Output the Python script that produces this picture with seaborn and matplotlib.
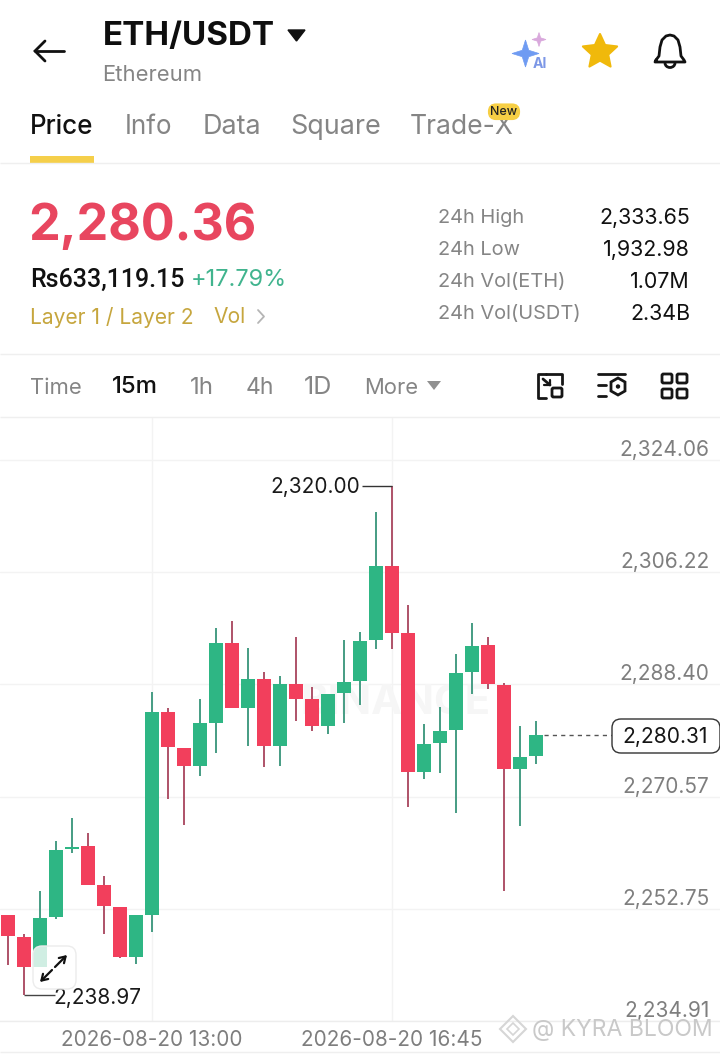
import numpy as np
import pandas as pd
import matplotlib
matplotlib.use("Agg")
import matplotlib.pyplot as plt
from matplotlib.patches import FancyBboxPatch, Polygon, Rectangle, Circle, Arc
import seaborn as sns

opens = [2251.8,2248.3,2243.5,2251.44,2262.24,2262.72,2256.52,2253.03,2245.08,2251.76,2284.01,2278.29,2275.43,2282.27,2294.98,2284.65,2289.26,2278.61,2288.46,2286.08,2281.79,2287.03,2288.94,2295.45,2307.21,2296.57,2274.48,2279.09,2281.15,2290.37,2294.66,2288.30,2274.96,2277.03]
highs = [2251.8,2248.74,2255.57,2263.52,2267.17,2264.79,2257.95,2253.03,2251.76,2287.19,2284.65,2278.29,2286.08,2297.36,2298.47,2294.18,2290.37,2289.73,2295.93,2287.99,2286.87,2295.45,2296.73,2315.79,2320.00,2301.02,2282.11,2284.81,2293.23,2298.16,2295.93,2288.62,2281.79,2282.58]
lows = [2243.82,2238.97,2243.5,2251.12,2261.61,2256.52,2248.74,2244.92,2243.97,2249.05,2270.19,2266.06,2273.84,2277.50,2284.65,2278.61,2275.27,2275.43,2282.58,2281.0,2280.52,2282.27,2285.13,2293.97,2293.97,2268.92,2273.37,2274.32,2267.96,2286.87,2287.67,2255.57,2265.90,2275.75]
closes = [2248.42,2243.49,2251.28,2262.08,2262.56,2256.52,2253.19,2245.08,2251.76,2284.01,2278.45,2275.43,2282.27,2294.98,2284.65,2289.26,2278.61,2288.46,2286.08,2281.79,2286.87,2288.78,2295.29,2307.21,2296.57,2274.48,2278.93,2281.0,2290.21,2294.50,2288.46,2274.96,2276.87,2280.31]
ytick_values = [2324.06, 2306.22, 2288.40, 2270.57, 2252.75, 2234.91]
ytick_labels = ["2,324.06", "2,306.22", "2,288.40", "2,270.57", "2,252.75", "2,234.91"]
xtick_index = [9, 24]
xtick_labels = ["2026-08-20 13:00", "2026-08-20 16:45"]
last_price = 2280.31
high_mark = 2320.00
low_mark = 2238.97

W, H = 720, 1054
FONT = "Inter"
sns.set_theme(style="white")
plt.rcParams["font.family"] = [FONT, "DejaVu Sans"]

UP, DOWN = "#2EB684", "#F23F5C"
UPW, DOWNW = "#4A9E86", "#B0566C"
GRID = "#F3F3F3"

fig = plt.figure(figsize=(W / 100, H / 100), dpi=100, facecolor="white")

def box(left, top, right, bottom):
    return [left / W, 1 - bottom / H, (right - left) / W, (bottom - top) / H]

ax = fig.add_axes(box(0, 417, W, 1021))
df = pd.DataFrame({"i": np.arange(len(opens)), "o": opens, "h": highs, "l": lows, "c": closes})
df["up"] = df.c >= df.o
df["body_low"] = df[["o", "c"]].min(axis=1)
df["body_h"] = (df.o - df.c).abs()
df["wick_h"] = df.h - df.l

for flag, body, wick in [(True, UP, UPW), (False, DOWN, DOWNW)]:
    sub = df[df.up == flag].sort_values("i")
    sns.barplot(data=sub, x="i", y="wick_h", bottom=sub.l.values, native_scale=True, width=0.17,
                color=wick, saturation=1, linewidth=0, errorbar=None, ax=ax, zorder=3)
    sns.barplot(data=sub, x="i", y="body_h", bottom=sub.body_low.values, native_scale=True, width=0.875,
                color=body, saturation=1, linewidth=0, errorbar=None, ax=ax, zorder=4)

ax.set_xlim(-0.5, 44.5)
ax.set_ylim(2234.91, 2330.89)
ax.set_xlabel("")
ax.set_ylabel("")
for s in ax.spines.values():
    s.set_visible(False)
ax.spines["bottom"].set_visible(True)
ax.spines["bottom"].set_color("#EDEDED")
ax.spines["bottom"].set_linewidth(1)
ax.yaxis.tick_right()
ax.set_yticks(ytick_values)
ax.set_yticklabels(ytick_labels, ha="right", va="bottom", fontsize=15, color="#7E7E7E")
ax.tick_params(axis="y", length=0, pad=-7.5)
ax.set_xticks(xtick_index)
ax.set_xticklabels(xtick_labels, fontsize=14.9, color="#7E7E7E")
ax.tick_params(axis="x", length=0, pad=6.5)
ax.grid(True, color=GRID, linewidth=1)
ax.set_axisbelow(True)
ax.text(395 / 16 - 0.5, 2285.5, "BINANCE", fontsize=30, fontweight="bold", color="#F6F6F6",
        ha="center", va="center", zorder=1)
# annotations of the extremes and the last price
ax.plot([24, 22.1], [high_mark, high_mark], color="#333333", lw=1, zorder=5, solid_capstyle="butt")
ax.annotate("2,320.00", xy=(22.0, high_mark), xytext=(0, -1.4), textcoords="offset points",
            fontsize=15, color="#1A1A1A", ha="right", va="center")
ax.plot([1, 2.95], [low_mark, low_mark], color="#444444", lw=1, zorder=5, solid_capstyle="butt")
ax.annotate("2,238.97", xy=(2.85, low_mark), xytext=(0, -2), textcoords="offset points",
            fontsize=15, color="#1A1A1A", ha="left", va="center", zorder=5)
ax.plot([33.5, 37.8], [last_price, last_price], color="#555555", lw=1, ls=(0, (3, 3)), zorder=5)

# page furniture, in pixel coordinates
ov = fig.add_axes([0, 0, 1, 1], facecolor="none", zorder=10)
ov.set_xlim(0, W)
ov.set_ylim(H, 0)
ov.axis("off")

def t(x, y, s, px, color="#111111", weight="normal", ha="left", **kw):
    return ov.text(x, y, s, fontsize=px * 0.72, color=color, fontweight=weight, ha=ha, va="center", **kw)

GRAY = "#858585"
t(103, 36.5, "ETH/USDT", 33.2, "#0E0E0E", "bold")
t(102, 75, "Ethereum", 22, GRAY)
t(30, 127, "Price", 26, "#111111", "medium")
t(125, 127, "Info", 26, GRAY)
t(203, 127, "Data", 27, GRAY)
t(290, 127, "Square", 27, GRAY)
t(410, 127, "Trade-X", 26.5, GRAY)
ov.add_patch(FancyBboxPatch((490, 105.5), 28, 12.5, boxstyle="round,pad=0,rounding_size=6", fc="#F7CF45", ec="#F7CF45", lw=3, zorder=3))
t(504, 112, "New", 12.5, "#222222", "medium", ha="center", zorder=4)
ov.add_patch(Rectangle((30, 156), 64, 7, fc="#F5CF4A", ec="none"))
for yy in (163, 354, 417, 1052):
    ov.plot([0, W], [yy, yy], color="#EFEFEF", lw=1, solid_capstyle="butt")

t(28, 226, "2,280.36", 50.3, "#E8465F", "bold")
ov.text(30, 280, "Rs633,119.15", fontsize=25 * 0.72, color="#111111", fontweight="medium",
        ha="left", va="center", family=["Roboto", "DejaVu Sans"])
t(191, 280, "+17.79%", 23.5, "#41B48E")
t(30, 317, "Layer 1 / Layer 2", 21, "#C6A63E")
t(213, 317, "Vol", 21, "#C6A63E")
ov.plot([258, 264, 258], [310, 316.5, 323], color="#B5B5B5", lw=1.3)

for yy, lab, val in zip([218, 250, 282, 314],
                        ["24h High", "24h Low", "24h Vol(ETH)", "24h Vol(USDT)"],
                        ["2,333.65", "1,932.98", "1.07M", "2.34B"]):
    t(438, yy, lab, 20, GRAY)
    t(690, yy, val, 21.4, "#111111", ha="right")

t(30, 388, "Time", 22, GRAY)
t(112, 387, "15m", 24, "#111111", "medium")
t(190, 388, "1h", 24, GRAY)
t(246, 388, "4h", 23, GRAY)
t(304, 388, "1D", 25, GRAY)
t(364, 388, "More", 22, GRAY)
ov.add_patch(Polygon([[427, 381], [441, 381], [434, 390]], fc="#909090", ec="none"))

# header icons
ov.plot([45, 35, 45], [41, 51, 61], color="#111111", lw=2, solid_joinstyle="miter")
ov.plot([35, 64], [51, 51], color="#111111", lw=2)
ov.add_patch(Polygon([[288, 30], [305, 30], [296.5, 41]], fc="#111111", ec="#111111", lw=1))

def sparkle(cx, cy, r, color):
    a = r * 0.24
    pts = [[cx, cy - r], [cx + a, cy - a], [cx + r, cy], [cx + a, cy + a], [cx, cy + r],
           [cx - a, cy + a], [cx - r, cy], [cx - a, cy - a]]
    ov.add_patch(Polygon(pts, fc=color, ec=color, lw=0.5))

sparkle(525.5, 53.5, 13.5, "#6F9BF2")
sparkle(539, 39.5, 7, "#D9A8DC")
t(540, 64, "AI", 14, "#7C97E6", "bold", ha="center")

star = [[600 + 18 * (1 if k % 2 == 0 else 0.48) * np.sin(k * np.pi / 5),
         52 - 18 * (1 if k % 2 == 0 else 0.48) * np.cos(k * np.pi / 5)] for k in range(10)]
ov.add_patch(Polygon(star, fc="#F0B90B", ec="#F0B90B", lw=1.5, joinstyle="round"))

# bell
bell_x = [656, 659, 660, 662, 666, 670, 674, 678, 680, 681, 684, 685, 655, 656]
bell_y = [60, 56, 47, 40, 36, 35, 36, 40, 47, 56, 60, 62, 62, 60]
ov.plot(bell_x, bell_y, color="#111111", lw=2, solid_joinstyle="round")
ov.add_patch(Arc((670, 63), 10, 9, theta1=0, theta2=180, color="#111111", lw=2))

# toolbar icons
ink = "#161616"
ov.plot([546, 538, 538, 546], [374, 374, 398, 398], color=ink, lw=2)
ov.plot([546, 562, 562], [374, 374, 384], color=ink, lw=2)
ov.add_patch(FancyBboxPatch((552, 388), 10, 9, boxstyle="round,pad=0,rounding_size=1.5", fc="none", ec=ink, lw=2))
ov.plot([543, 550], [379, 385], color=ink, lw=2)
ov.plot([550, 550, 544], [380, 385, 385], color=ink, lw=1.6)
ov.plot([598, 625], [374, 374], color=ink, lw=2)
ov.plot([598, 606], [385, 385], color=ink, lw=2)
ov.plot([598, 606], [396, 396], color=ink, lw=2)
ov.add_patch(Polygon([[618, 378], [625, 382], [625, 391], [618, 395], [611, 391], [611, 382]], fc="none", ec=ink, lw=2))
ov.add_patch(Circle((618, 386.5), 2.2, fc=ink, ec="none"))
for gx in (662, 677):
    for gy in (374, 389):
        ov.add_patch(FancyBboxPatch((gx, gy), 10, 9, boxstyle="round,pad=0,rounding_size=1.5", fc="none", ec=ink, lw=2))

# price tag
ov.add_patch(FancyBboxPatch((612, 719), 108, 34, boxstyle="round,pad=0,rounding_size=9", fc="white", ec="#333333", lw=1, zorder=5))
t(708, 737, "2,280.31", 21, "#151515", ha="right", zorder=6)

# expand button
ov.add_patch(FancyBboxPatch((33, 946), 43, 43, boxstyle="round,pad=0,rounding_size=9", fc=(1, 1, 1, 0.78), ec="#ECECEC", lw=1, zorder=5))
for (x0, y0, x1, y1) in [(55, 967, 66, 956), (52, 970, 41, 981)]:
    ov.annotate("", xy=(x1 + (1 if x1 > x0 else -1), y1 - (1 if x1 > x0 else -1)), xytext=(x0, y0),
                arrowprops=dict(arrowstyle="->,head_length=0.35,head_width=0.22", color="#111111", lw=1.6, shrinkA=0, shrinkB=0), zorder=6)

# watermark
t(532, 1030, "@ KYRA BLOOM", 23, "#C9C9C9", zorder=6)
ov.add_patch(Polygon([[513, 1016], [526, 1029], [513, 1042], [500, 1029]], fc="none", ec="#D6D6D6", lw=1.5, zorder=6))
ov.add_patch(Polygon([[513, 1023], [519, 1029], [513, 1035], [507, 1029]], fc="none", ec="#D6D6D6", lw=1.2, zorder=6))

fig.savefig("out.png", dpi=100, facecolor="white")
